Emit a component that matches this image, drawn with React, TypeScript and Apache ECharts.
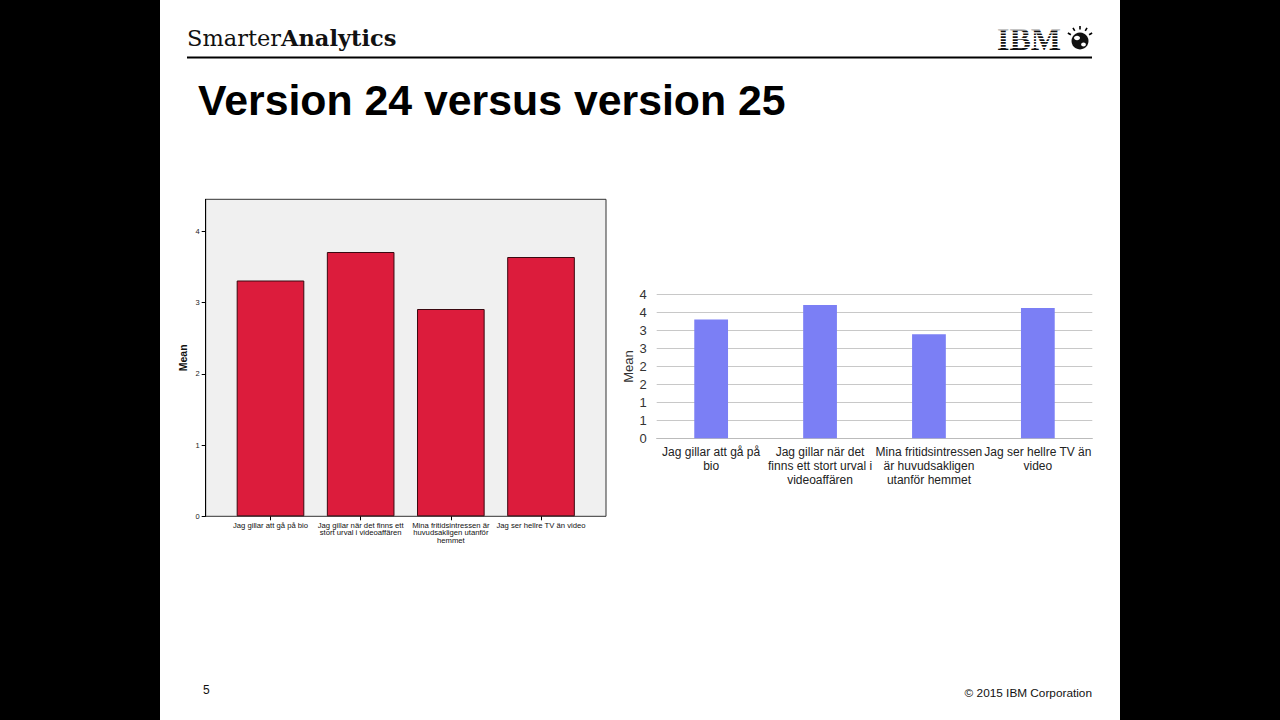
import React, { useEffect, useRef } from "react";
import * as echarts from "echarts";

const leftCategories = [
  "Jag gillar att gå på bio",
  "Jag gillar när det finns ett\nstort urval i videoaffären",
  "Mina fritidsintressen är\nhuvudsakligen utanför\nhemmet",
  "Jag ser hellre TV än video",
];
const rightCategories = [
  "Jag gillar att gå på\nbio",
  "Jag gillar när det\nfinns ett stort urval i\nvideoaffären",
  "Mina fritidsintressen\när huvudsakligen\nutanför hemmet",
  "Jag ser hellre TV än\nvideo",
];
const version24Means = [3.31, 3.71, 2.91, 3.64];
const version25Means = [3.31, 3.71, 2.9, 3.63];
const leftAxisMax = 4.45;
const rightAxisMax = 4;
const rightAxisStep = 0.5;

const headerLight = "Smarter";
const headerBold = "Analytics";
const titleText = "Version 24 versus version 25";
const pageNumber = "5";
const copyrightText = "© 2015 IBM Corporation";

export default function App() {
  const ref = useRef<HTMLDivElement>(null);

  useEffect(() => {
    if (!ref.current) return;
    const chart = echarts.init(ref.current, undefined, { renderer: "svg" });

    const stripes: any[] = [];
    for (let i = 1; i < 8; i++) {
      stripes.push({
        type: "rect",
        shape: { x: 994, y: 27 + i * 2.9 - 0.6, width: 70, height: 1.2 },
        style: { fill: "#fff" },
        z: 10,
      });
    }
    const rays: any[] = [];
    const rayAngles = [-150, -120, -90, -60, -30];
    rayAngles.forEach((a) => {
      const r = (a * Math.PI) / 180;
      rays.push({
        type: "line",
        shape: {
          x1: 1080 + Math.cos(r) * 10.5,
          y1: 40 + Math.sin(r) * 10.5,
          x2: 1080 + Math.cos(r) * 14,
          y2: 40 + Math.sin(r) * 14,
        },
        style: { stroke: "#000", lineWidth: 1.6 },
      });
    });

    const option: any = {
      animation: false,
      backgroundColor: "transparent",
      textStyle: { fontFamily: "Liberation Sans, Arial, sans-serif" },
      grid: [
        {
          left: 205.7,
          top: 199.3,
          width: 400.3,
          height: 317,
          show: true,
          backgroundColor: "#f0f0f0",
          borderColor: "#333",
          borderWidth: 1,
        },
        { left: 225.4, top: 199.3, width: 360.7, height: 317 },
        { left: 656.7, top: 294.7, width: 435.6, height: 143.6 },
      ],
      xAxis: [
        { gridIndex: 0, type: "value", show: false, min: 0, max: 1 },
        {
          gridIndex: 1,
          type: "category",
          data: leftCategories,
          axisLine: { show: false },
          axisTick: {
            show: true,
            alignWithLabel: true,
            length: 4,
            lineStyle: { color: "#000" },
          },
          axisLabel: {
            interval: 0,
            fontSize: 7.7,
            lineHeight: 7.8,
            color: "#111",
            margin: 5,
          },
        },
        {
          gridIndex: 2,
          type: "category",
          data: rightCategories,
          axisLine: { show: true, lineStyle: { color: "#bbb" } },
          axisTick: { show: false },
          axisLabel: {
            interval: 0,
            fontSize: 12,
            lineHeight: 14,
            color: "#222",
            margin: 7,
          },
        },
      ],
      yAxis: [
        { gridIndex: 0, type: "value", show: false, min: 0, max: 1 },
        {
          gridIndex: 1,
          type: "value",
          min: 0,
          max: leftAxisMax,
          interval: 1,
          offset: 19.7,
          name: "Mean",
          nameLocation: "middle",
          nameGap: 17,
          nameTextStyle: { fontSize: 10.5, fontWeight: "bold", color: "#111" },
          axisLine: { show: true, lineStyle: { color: "#000" } },
          axisTick: { show: true, length: 4, lineStyle: { color: "#000" } },
          axisLabel: {
            fontSize: 7.5,
            color: "#222",
            margin: 6,
            showMaxLabel: false,
            formatter: (v: number) => (Number.isInteger(v) ? String(v) : ""),
          },
          splitLine: { show: false },
        },
        {
          gridIndex: 2,
          type: "value",
          min: 0,
          max: rightAxisMax,
          interval: rightAxisStep,
          name: "Mean",
          nameLocation: "middle",
          nameGap: 22,
          nameTextStyle: { fontSize: 13, color: "#333" },
          axisLine: { show: false },
          axisTick: { show: false },
          axisLabel: {
            fontSize: 13,
            color: "#333",
            margin: 10,
            formatter: (v: number) => String(Math.round(v)),
          },
          splitLine: { show: true, lineStyle: { color: "#c8c8c8" } },
        },
      ],
      series: [
        {
          name: "Version 24",
          type: "bar",
          xAxisIndex: 1,
          yAxisIndex: 1,
          data: version24Means,
          barWidth: "75%",
          itemStyle: { color: "#dc1c3c", borderColor: "#3a0810", borderWidth: 1 },
        },
        {
          name: "Version 25",
          type: "bar",
          xAxisIndex: 2,
          yAxisIndex: 2,
          data: version25Means,
          barWidth: "31%",
          itemStyle: { color: "#7b7ff5" },
        },
      ],
      graphic: [
        {
          type: "text",
          x: 187,
          y: 38,
          style: {
            text: "{a|" + headerLight + "}{b|" + headerBold + "}",
            verticalAlign: "middle",
            rich: {
              a: { fontFamily: "DejaVu Serif", fontSize: 22.5, fontWeight: "normal", fill: "#111" },
              b: { fontFamily: "DejaVu Serif", fontSize: 22.5, fontWeight: "bold", fill: "#111" },
            },
          },
        },
        {
          type: "line",
          shape: { x1: 187, y1: 57.5, x2: 1092, y2: 57.5 },
          style: { stroke: "#000", lineWidth: 2 },
        },
        {
          type: "text",
          x: 997,
          y: 38.5,
          style: {
            text: "IBM",
            fontFamily: "Liberation Serif",
            fontWeight: "bold",
            fontSize: 32,
            verticalAlign: "middle",
            fill: "#111",
          },
        },
        ...stripes,
        {
          type: "circle",
          shape: { cx: 1080, cy: 41, r: 8.5 },
          style: { fill: "#111" },
        },
        {
          type: "ellipse",
          shape: { cx: 1077, cy: 38, rx: 3, ry: 2.2 },
          style: { fill: "#fff" },
        },
        {
          type: "ellipse",
          shape: { cx: 1083.5, cy: 44.5, rx: 2.4, ry: 2 },
          style: { fill: "#fff" },
        },
        ...rays,
        {
          type: "text",
          x: 198,
          y: 100,
          style: {
            text: titleText,
            fontFamily: "Liberation Sans",
            fontWeight: "bold",
            fontSize: 42.8,
            verticalAlign: "middle",
            fill: "#000",
          },
        },
        {
          type: "text",
          x: 203,
          y: 690,
          style: {
            text: pageNumber,
            fontFamily: "Liberation Sans",
            fontSize: 12,
            verticalAlign: "middle",
            fill: "#111",
          },
        },
        {
          type: "text",
          x: 1092,
          y: 693,
          style: {
            text: copyrightText,
            fontFamily: "Liberation Sans",
            fontSize: 11.8,
            align: "right",
            verticalAlign: "middle",
            fill: "#111",
          },
        },
      ],
    };

    chart.setOption(option);
    return () => chart.dispose();
  }, []);

  return (
    <div
      style={{
        position: "fixed",
        left: 0,
        top: 0,
        width: 1280,
        height: 720,
        background:
          "linear-gradient(to right, #000 0px, #000 160px, #fff 160px, #fff 1120px, #000 1120px, #000 1280px)",
      }}
    >
      <div ref={ref} style={{ width: 1280, height: 720 }} />
    </div>
  );
}
